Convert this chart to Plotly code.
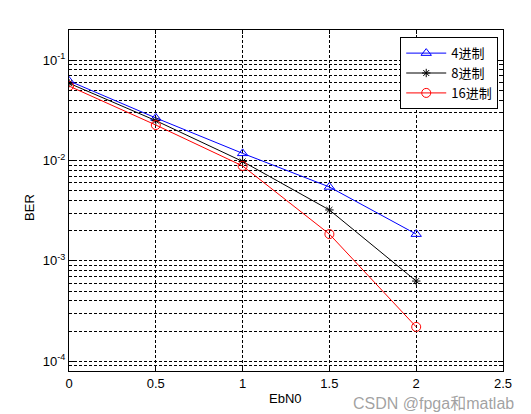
import plotly.graph_objects as go
import numpy as np

ebn0 = [0, 0.5, 1, 1.5, 2]
ber_4 = [0.0622, 0.0266, 0.0118, 0.00546, 0.00185]
ber_8 = [0.0590, 0.0250, 0.0098, 0.00322, 0.00063]
ber_16 = [0.0553, 0.0226, 0.00884, 0.00185, 0.00022]
names = ["4进制", "8进制", "16进制"]

y_major = [1e-4, 1e-3, 1e-2, 1e-1]
y_major_text = ["10<sup>-4</sup>", "10<sup>-3</sup>", "10<sup>-2</sup>", "10<sup>-1</sup>"]
y_minor = [m * 10.0**e for e in range(-5, 0) for m in range(2, 10)]

fig = go.Figure()
series = [
    (ber_4, "blue", "triangle-up-open", 9),
    (ber_8, "black", "asterisk-open", 7),
    (ber_16, "red", "circle-open", 9),
]
for (ys, col, sym, sz), nm in zip(series, names):
    fig.add_trace(go.Scatter(
        x=ebn0, y=ys, name=nm, mode="lines+markers",
        line=dict(color=col, width=1),
        marker=dict(symbol=sym, size=sz, color=col, line=dict(color=col, width=1)),
    ))

grid_dash = "3px,2px"
fig.update_xaxes(
    range=[0, 2.5], tickvals=[0, 0.5, 1, 1.5, 2, 2.5],
    ticktext=["0", "0.5", "1", "1.5", "2", "2.5"],
    showgrid=True, gridcolor="black", griddash=grid_dash, gridwidth=1,
    showline=True, linecolor="black", linewidth=1, mirror="ticks",
    ticks="inside", ticklen=4, tickcolor="black", zeroline=False,
    automargin=False, tickfont=dict(size=13),
)
fig.update_yaxes(
    type="log", range=[np.log10(8e-5), np.log10(0.2)],
    tickvals=y_major, ticktext=y_major_text,
    showgrid=True, gridcolor="black", griddash=grid_dash, gridwidth=1,
    showline=True, linecolor="black", linewidth=1, mirror="ticks",
    ticks="inside", ticklen=5, tickcolor="black", zeroline=False,
    minor=dict(tickvals=y_minor, ticks="inside", ticklen=3, tickcolor="black",
               showgrid=True, gridcolor="black", griddash=grid_dash, gridwidth=1),
    automargin=False, tickfont=dict(size=13),
)

# axis titles (the page body adds an 8px offset, so the figure is a bit smaller)
fig.add_annotation(
    text="EbN0", xref="paper", yref="paper", x=0.498, y=-0.082,
    xanchor="center", yanchor="middle", showarrow=False, font=dict(size=13),
)
fig.add_annotation(
    text="BER", xref="paper", yref="paper", x=-0.09, y=0.481,
    xanchor="center", yanchor="middle", showarrow=False, textangle=-90,
    font=dict(size=13),
)
fig.add_annotation(
    text="CSDN @fpga和matlab", xref="paper", yref="paper", x=1.03, y=-0.094,
    xanchor="right", yanchor="middle", showarrow=False,
    font=dict(family="Liberation Sans, Noto Sans CJK SC", size=16,
              color="rgba(120,120,120,0.7)"),
)

fig.update_layout(
    width=523, height=406,
    margin=dict(l=61, r=28, t=22, b=43),
    paper_bgcolor="white", plot_bgcolor="white",
    font=dict(family="Liberation Sans, Arial", size=12, color="black"),
    showlegend=True,
    legend=dict(
        x=0.989, y=0.979, xanchor="right", yanchor="top",
        bgcolor="white", bordercolor="black", borderwidth=1,
        font=dict(family="Noto Sans CJK SC", size=13),
        itemwidth=40, tracegroupgap=0,
    ),
)

fig.write_html("out.html")
